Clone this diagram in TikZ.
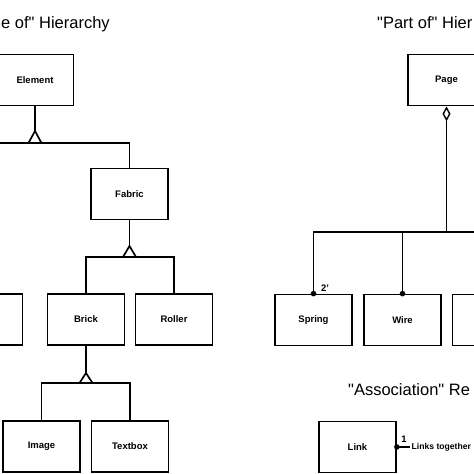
\documentclass[tikz,border=0pt]{standalone}
\usepackage{fontspec}
\setmainfont{Liberation Sans}
\usetikzlibrary{arrows.meta}
\begin{document}
\begin{tikzpicture}[x=1pt,y=-1pt,
  cls/.style={draw, line width=1.7pt, minimum width=77pt, minimum height=51pt, inner sep=0pt, font=\fontsize{9.5}{11}\selectfont\bfseries},
  con/.style={line width=1.7pt, line join=miter},
  ttl/.style={font=\fontsize{16.5}{19}\selectfont, inner sep=0pt},
  lbl/.style={font=\fontsize{9.5}{11}\selectfont\bfseries, inner sep=0pt},
  dot/.style={fill=black}]
\useasboundingbox (0,0) rectangle (474,474);
\clip (0,0) rectangle (474,474);
% titles
\node[ttl, anchor=base west] (t1) at (1,28) {e of\textquotedbl{} Hierarchy};
\node[ttl, anchor=base west] (t2) at (377,28) {\textquotedbl Part of\textquotedbl{} Hier};
\node[ttl, anchor=base west] (t3) at (348,395) {\textquotedbl Association\textquotedbl{} Re};
% "Type of" hierarchy
\node[cls] (element) at (35,80) {Element};
\node[cls] (fabric) at (129.5,194) {Fabric};
\node[cls] (leftbox) at (-16,319.5) {};
\node[cls] (brick) at (86,319.5) {Brick};
\node[cls] (roller) at (174,319.5) {Roller};
\node[cls] (image) at (41.5,446.5) {Image};
\node[cls] (textbox) at (130,446.5) {Textbox};
\coordinate (etip) at (35,131);
\coordinate (ebar) at (35,143);
\coordinate (ftip) at (129.5,246);
\coordinate (fbar) at (129.5,257);
\coordinate (btip) at (86,373);
\coordinate (bbar) at (86,383);
\draw[con] (element.south) -- (etip);
\draw[con] (leftbox.north) |- (ebar) -| (fabric.north);
\draw[con, fill=white] (etip) -- ++(-6.5,12) -- ++(13,0) -- cycle;
\draw[con] (fabric.south) -- (ftip);
\draw[con] (brick.north) |- (fbar) -| (roller.north);
\draw[con, fill=white] (ftip) -- ++(-6.5,11) -- ++(13,0) -- cycle;
\draw[con] (brick.south) -- (btip);
\draw[con] (image.north) |- (bbar) -| (textbox.north);
\draw[con, fill=white] (btip) -- ++(-6.5,10) -- ++(13,0) -- cycle;
% "Part of" hierarchy
\node[cls] (page) at (446.5,80) {Page};
\node[cls] (spring) at (313.5,320) {Spring};
\node[cls] (wire) at (402.5,320) {Wire};
\node[cls] (rightbox) at (491,320) {};
\coordinate (pbar) at (446.5,232);
\coordinate (wj) at (402.5,232);
\draw[con, {Diamond[open,length=15pt,width=8pt,line width=1.4pt]}-] (page.south) -- (pbar);
\draw[con] (spring.north) |- (pbar) -| (rightbox.north);
\draw[con] (wire.north) -- (wj);
\fill[dot] (spring.north) circle (2.8);
\fill[dot] (wire.north) circle (2.8);
\node[lbl] (mult2) at (325,288) {2'};
% Association
\node[cls] (link) at (357.5,447) {Link};
\coordinate (lend) at (410,447);
\draw[con] (link.east) -- (lend);
\fill[dot] (link.east) circle (2.8);
\node[lbl] (mult1) at (404,439) {1};
\node[lbl, anchor=west, font=\fontsize{8.6}{10}\selectfont\bfseries] (assoc) at (411.5,447) {Links together};
\end{tikzpicture}
\end{document}
